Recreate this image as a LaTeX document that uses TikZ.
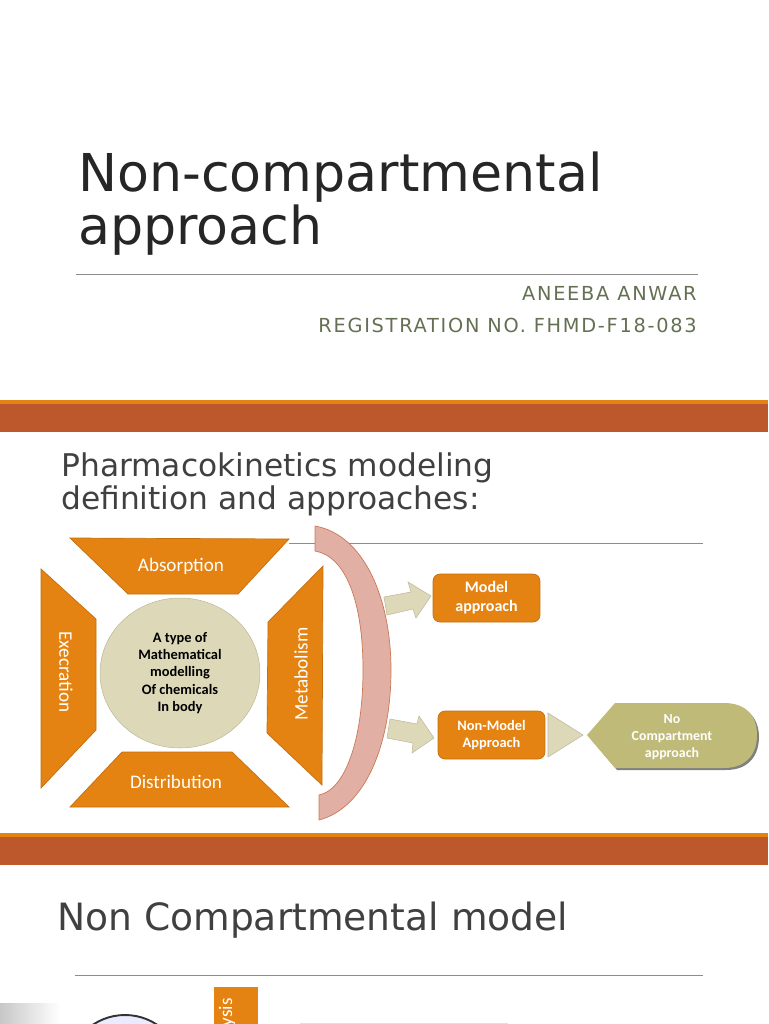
\documentclass[tikz,border=0pt]{standalone}
\usepackage{fontspec}
\setmainfont{Carlito}
\newfontfamily\titlefont{DejaVu Sans}
\newfontfamily\subfont[LetterSpace=9]{DejaVu Sans}
\usetikzlibrary{shapes.geometric}
\definecolor{barorange}{HTML}{E48312}
\definecolor{barbrown}{HTML}{BD582C}
\definecolor{khaki}{HTML}{DDD9B8}
\definecolor{olive}{HTML}{C0BA78}
\definecolor{rosearc}{HTML}{E2AFA5}
\definecolor{subgreen}{HTML}{637052}
\begin{document}
\begin{tikzpicture}[x=0.02cm,y=-0.02cm]
    \tikzstyle{rulerline}=[draw=black!45,line width=0.5pt]
    \tikzstyle{panel}=[fill=barorange,draw=barorange!85!black,line width=0.4pt]
    \tikzstyle{panellabel}=[text=white,font=\fontsize{10.9}{13}\selectfont,inner sep=0pt]
    \tikzstyle{blockarrow}=[fill=khaki,draw=khaki!85!black,line width=0.3pt]
    \tikzstyle{roundbox}=[panel,rounded corners=4pt,minimum width=2.14cm,minimum height=0.96cm,text=white,align=center,inner sep=0pt]
    \tikzstyle{bigtitle}=[text=black!85,anchor=west,align=left,inner sep=0pt]
    \tikzstyle{slidetitle}=[text=black!75,anchor=west,align=left,inner sep=0pt]
    \tikzstyle{subline}=[text=subgreen,anchor=base east,inner sep=0pt,font=\subfont\fontsize{11}{12}\selectfont]
    \useasboundingbox (0,0) rectangle (768,1024);
    \clip (0,0) rectangle (768,1024);

    % first slide
    \node[bigtitle,font=\titlefont\fontsize{29.7}{30.2}\selectfont] (title) at (78,204) {Non-compartmental\\approach};
    \draw[rulerline] (76,274) -- (698,274);
    \node[subline] (author) at (697,300) {ANEEBA ANWAR};
    \node[subline] (regno) at (697,332) {REGISTRATION NO. FHMD-F18-083};

    % bars between slides
    \foreach \y in {400,833} {
    \fill[barorange] (0,\y) rectangle (768,\y+4);
    \fill[barbrown] (0,\y+4) rectangle (768,\y+32);
    }

    % second slide
    \node[slidetitle,font=\titlefont\fontsize{17.8}{18.9}\selectfont] (deftitle) at (61,484) {Pharmacokinetics modeling\\definition and approaches:};
    \draw[rulerline] (289,543) -- (703,543);

    \draw[panel] (70,538) -- (289,539) -- (238,594) -- (128,594) -- cycle;
    \draw[panel] (41,569) -- (96,619) -- (96,730) -- (41,788) -- cycle;
    \draw[panel] (323,566) -- (268,622) -- (267,733) -- (322,785) -- cycle;
    \draw[panel] (122,752) -- (232,752) -- (289,807) -- (70,807) -- cycle;
    \node[panellabel] (absorption) at (181,566) {Absorption};
    \node[panellabel,rotate=-90] (excretion) at (66,672) {Execration};
    \node[panellabel,rotate=90] (metabolism) at (301,674) {Metabolism};
    \node[panellabel] (distribution) at (176,782) {Distribution};

    \node[ellipse,fill=khaki,draw=khaki!85!black,line width=0.3pt,minimum width=3.2cm,minimum height=3cm,inner sep=0pt,align=center,
    font=\bfseries\fontsize{8.2}{9.9}\selectfont] (body) at (180,673) {A type of\\Mathematical\\modelling\\Of chemicals\\In body};

    \draw[fill=rosearc,draw=barbrown!80,line width=0.4pt] (315,526) .. controls (365,535) and (391,600) .. (391,670)
    .. controls (391,745) and (365,808) .. (319,820) -- (319,795)
    .. controls (345,790) and (363,740) .. (363,670) .. controls (363,600) and (345,556) .. (315,551) -- cycle;

    \draw[blockarrow] (384,597) -- (411,592) -- (408,582) -- (431,596) -- (416,618) -- (413,609) -- (387,615) -- cycle;
    \draw[blockarrow] (390,719) -- (417,724) -- (419,716) -- (434,738) -- (412,753) -- (413,743) -- (387,738) -- cycle;

    \node[roundbox,font=\bfseries\fontsize{9.1}{10.9}\selectfont] (model) at (486.5,598) {Model\\approach};
    \node[roundbox,font=\bfseries\fontsize{8.2}{10}\selectfont] (nonmodel) at (491.5,735) {Non-Model\\Approach};
    \draw[blockarrow] (548,713) -- (583,735) -- (548,757) -- cycle;

    \fill[black!50] (589,737) -- (617,705) -- (726,705) .. controls (750,705) and (759,721) .. (759,737)
    .. controls (759,754) and (750,770) .. (726,770) -- (617,770) -- cycle;
    \fill[olive] (587,735) -- (615,703) -- (724,703) .. controls (748,703) and (757,718) .. (757,735)
    .. controls (757,752) and (748,768) .. (724,768) -- (615,768) -- cycle;
    \node[text=white,align=center,inner sep=0pt,font=\bfseries\fontsize{7.9}{9.8}\selectfont] (nocomp) at (672,737) {No\\Compartment\\approach};

    % third slide
    \node[slidetitle,font=\titlefont\fontsize{21.4}{24}\selectfont] (lasttitle) at (57,920) {Non Compartmental model};
    \draw[rulerline] (75,975) -- (703,975);

    \shade[left color=black!22,right color=white] (0,1003) rectangle (60,1024);
    \draw[fill=blue!8,draw=black!80,line width=1.1pt] (125,1069) circle [x radius=56,y radius=54];
    \fill[barorange] (214,987) rectangle (258,1024);
    \node[text=white,rotate=90,anchor=east,inner sep=0pt,font=\fontsize{10.9}{13}\selectfont] (analysis) at (227,998) {ysis};
    \draw[fill=orange!15,draw=orange!30,line width=0.4pt] (300,1023) rectangle (507,1040);
\end{tikzpicture}
\end{document}
